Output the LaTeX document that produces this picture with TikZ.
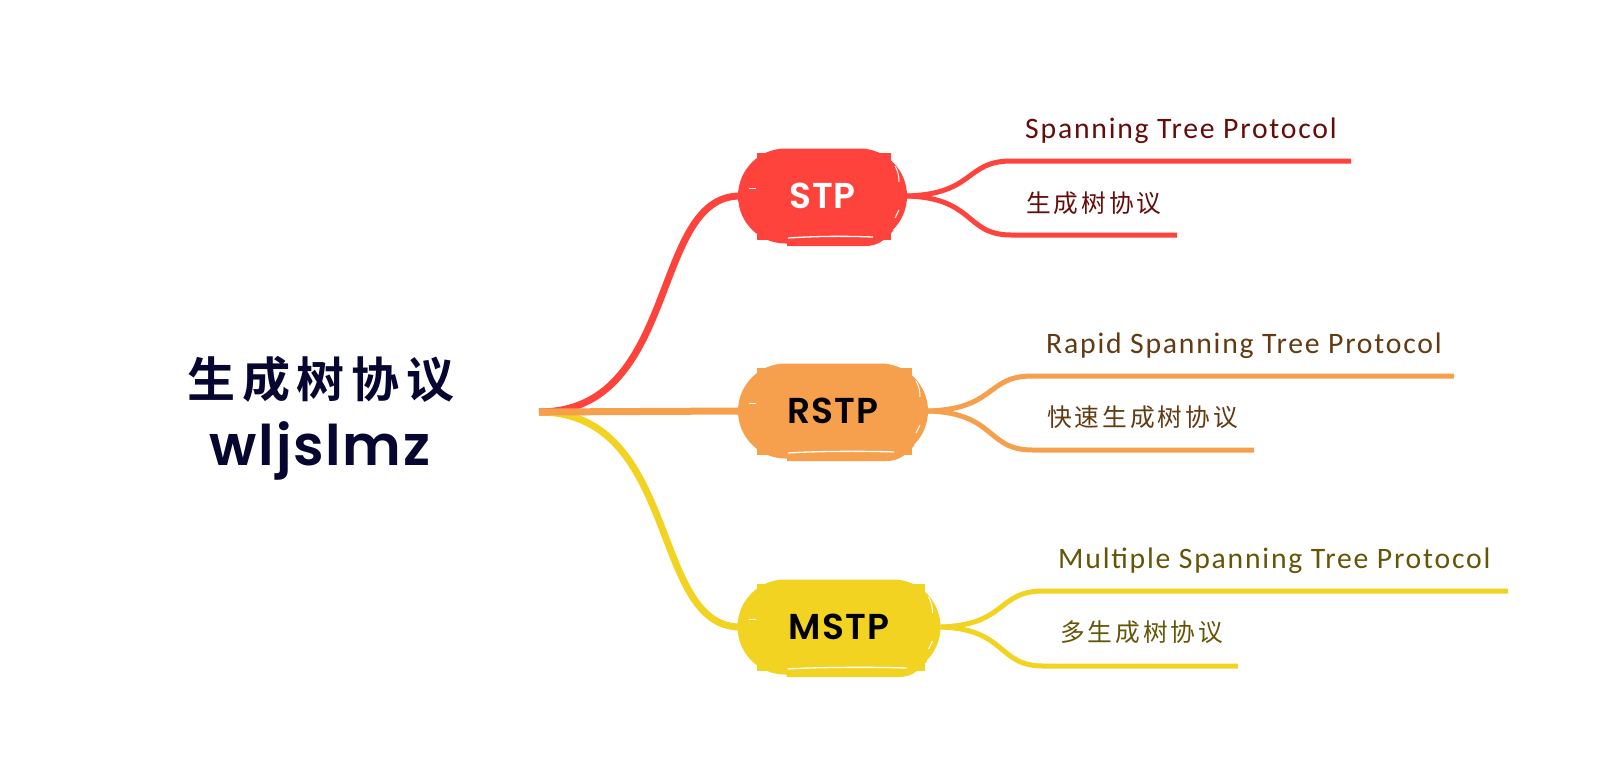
\documentclass[tikz,border=0pt]{standalone}
\usepackage{fontspec}
\usetikzlibrary{shapes.misc}
\setmainfont[LetterSpace=6]{Carlito}
\newfontfamily\cjk[LetterSpace=12]{Noto Sans CJK SC}
\newfontfamily\cjkb[LetterSpace=14,BoldFont={Noto Sans CJK SC Bold}]{Noto Sans CJK SC}
\newfontfamily\latb[LetterSpace=3]{Poppins SemiBold}
\definecolor{cred}{HTML}{FD433B}
\definecolor{corange}{HTML}{F6A04D}
\definecolor{cyellow}{HTML}{F3D321}
\definecolor{tred}{HTML}{650D0A}
\definecolor{torange}{HTML}{623B12}
\definecolor{tyellow}{HTML}{655507}
\definecolor{navy}{HTML}{060630}
\tikzset{
 pill/.style={rounded rectangle,minimum height=92pt,inner sep=0pt,fill=#1,draw=#1,line width=3pt},
 lnk/.style={line width=7pt,draw=#1},
 sub/.style={line width=5pt,draw=#1},
 lab/.style={anchor=west,inner sep=0pt,font=\fontsize{29.7}{30}\selectfont,text=#1},
 clab/.style={anchor=west,inner sep=0pt,font=\cjk\fontsize{24.7}{25}\selectfont,text=#1},
 pilltext/.style={font=\latb\fontsize{36}{36}\selectfont,text=#1,inner sep=0pt},
 ttl/.style={text=navy,inner sep=0pt}
}
% #1 node, #2 colour: the hand-drawn marks on a pill
\newcommand{\pilldeco}[2]{%
 \fill[#2] ([xshift=19pt,yshift=43pt]#1.west) rectangle ([xshift=-16pt,yshift=-44pt]#1.east);
 \draw[#2,line width=4pt] ([xshift=49pt,yshift=-48pt]#1.west) -- ([xshift=-42pt,yshift=-48pt]#1.east) .. controls ([xshift=-30pt,yshift=-48pt]#1.east) and ([xshift=-24pt,yshift=-43pt]#1.east) .. ([xshift=-15pt,yshift=-33pt]#1.east);
 \draw[white,line width=1.3pt] ([xshift=50pt,yshift=-42pt]#1.west) .. controls ([xshift=80pt,yshift=-40pt]#1.west) and ([xshift=-60pt,yshift=-40pt]#1.east) .. ([xshift=-34pt,yshift=-41pt]#1.east);
 \draw[white,line width=1pt] ([xshift=11pt,yshift=8pt]#1.west) -- ([xshift=18pt,yshift=8pt]#1.west);
 \draw[white,line width=1pt] ([xshift=-12pt,yshift=30pt]#1.east) .. controls ([xshift=-9pt,yshift=25pt]#1.east) and ([xshift=-8pt,yshift=20pt]#1.east) .. ([xshift=-8pt,yshift=14pt]#1.east);
 \draw[white,line width=1pt] ([xshift=-8pt,yshift=-14pt]#1.east) -- ([xshift=-12pt,yshift=-22pt]#1.east);
}
\begin{document}
\begin{tikzpicture}[x=1pt,y=-1pt]
\useasboundingbox[fill=white] (0,0) rectangle (1608,776);
\coordinate (root) at (539,412);
\node[ttl,font=\cjkb\bfseries\fontsize{48}{48}\selectfont] (t1) at (321,379) {生成树协议};
\node[ttl,font=\latb\fontsize{56}{56}\selectfont] (t2) at (320,451) {wljslmz};

\draw[lnk=cyellow] (root) .. controls (680,412) and (650,627) .. (740,627);
\draw[lnk=cred] (root) .. controls (680,412) and (650,196) .. (740,196);
\draw[lnk=corange] (root) -- (740,411);

\node[pill=cred,minimum width=166pt] (stp) at (822.5,196) {};
\node[pill=corange,minimum width=187pt] (rstp) at (833,411) {};
\node[pill=cyellow,minimum width=200pt] (mstp) at (839,627) {};
\pilldeco{stp}{cred}
\pilldeco{rstp}{corange}
\pilldeco{mstp}{cyellow}
\node[pilltext=white] at (stp) {STP};
\node[pilltext=black] at (rstp) {RSTP};
\node[pilltext=black] at (mstp) {MSTP};

\coordinate (a1) at (1011,161);
\coordinate (a2) at (1351,161);
\coordinate (b1) at (1011,235);
\coordinate (b2) at (1177,235);
\draw[sub=cred] (stp.east) .. controls (975,194) and (965,161) .. (a1) -- (a2);
\draw[sub=cred] (stp.east) .. controls (975,198) and (965,235) .. (b1) -- (b2);
\node[lab=tred] (s1) at (1025,131) {Spanning Tree Protocol};
\node[clab=tred] (s2) at (1026,203) {生成树协议};

\coordinate (c1) at (1032,376);
\coordinate (c2) at (1454,376);
\coordinate (d1) at (1032,450);
\coordinate (d2) at (1254,450);
\draw[sub=corange] (rstp.east) .. controls (996,409) and (986,376) .. (c1) -- (c2);
\draw[sub=corange] (rstp.east) .. controls (996,413) and (986,450) .. (d1) -- (d2);
\node[lab=torange] (r1) at (1046,346) {Rapid Spanning Tree Protocol};
\node[clab=torange] (r2) at (1047,417) {快速生成树协议};

\coordinate (e1) at (1043,591);
\coordinate (e2) at (1508,591);
\coordinate (f1) at (1043,666);
\coordinate (f2) at (1238,666);
\draw[sub=cyellow] (mstp.east) .. controls (1007,625) and (997,591) .. (e1) -- (e2);
\draw[sub=cyellow] (mstp.east) .. controls (1007,629) and (997,666) .. (f1) -- (f2);
\node[lab=tyellow] (m1) at (1058,561) {Multiple Spanning Tree Protocol};
\node[clab=tyellow] (m2) at (1060,632) {多生成树协议};
\end{tikzpicture}
\end{document}
